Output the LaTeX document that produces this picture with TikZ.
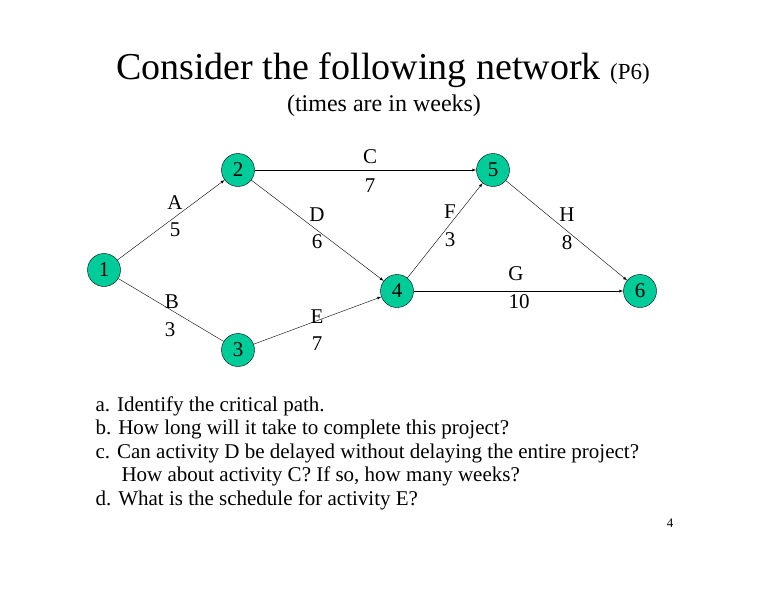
\documentclass[tikz,border=0pt]{standalone}
\usepackage{fontspec}
\setmainfont{Liberation Serif}
\definecolor{nodegreen}{RGB}{0,204,153}
\begin{document}
\begin{tikzpicture}[x=1pt,y=-1pt,
  ev/.style={circle,draw,fill=nodegreen,minimum size=33pt,inner sep=0pt,font=\fontsize{21}{23}\selectfont},
  act/.style={->,>=latex,thin},
  lab/.style={font=\fontsize{21}{23}\selectfont}]
\useasboundingbox (0,0) rectangle (768,594);
\node at (383,70) {\fontsize{38}{42}\selectfont Consider the following network \fontsize{23}{26}\selectfont(P6)};
\node[font=\fontsize{24}{28}\selectfont] at (384,106) {(times are in weeks)};
% events
\node[ev] (n1) at (104,270) {1};
\node[ev] (n2) at (238,170) {2};
\node[ev] (n3) at (238,350) {3};
\node[ev] (n4) at (397,291) {4};
\node[ev] (n5) at (493,170) {5};
\node[ev] (n6) at (640,291) {6};
% activities
\draw[act] (n1) -- (n2);
\draw (n1) -- (n3);
\draw[act] (n2) -- (n5);
\draw[act] (n2) -- (n4);
\draw[act] (n3) -- (n4);
\draw[act] (n4) -- (n5);
\draw[act] (n4) -- (n6);
\draw[act] (n5) -- (n6);
\node[lab] at (175,203) {A}; \node[lab] at (175,230) {5};
\node[lab] at (370,157) {C}; \node[lab] at (370,186) {7};
\node[lab] at (317,215) {D}; \node[lab] at (317,242) {6};
\node[lab] at (450,212) {F}; \node[lab] at (450,240) {3};
\node[lab] at (567,215) {H}; \node[lab] at (567,243) {8};
\node[lab] at (516,274) {G}; \node[lab] at (519,302) {10};
\node[lab] at (172,302) {B}; \node[lab] at (170,330) {3};
\node[lab] at (317,317) {E}; \node[lab] at (317,344) {7};
% questions
\node[anchor=north west,align=left,font=\fontsize{21}{23.5}\selectfont] at (92,393) {a. Identify the critical path.\\
b. How long will it take to complete this project?\\
c. Can activity D be delayed without delaying the entire project?\\
\hspace*{26pt}How about activity C? If so, how many weeks?\\
d. What is the schedule for activity E?};
\node[font=\fontsize{13}{15}\selectfont] at (670,523) {4};
\end{tikzpicture}
\end{document}
